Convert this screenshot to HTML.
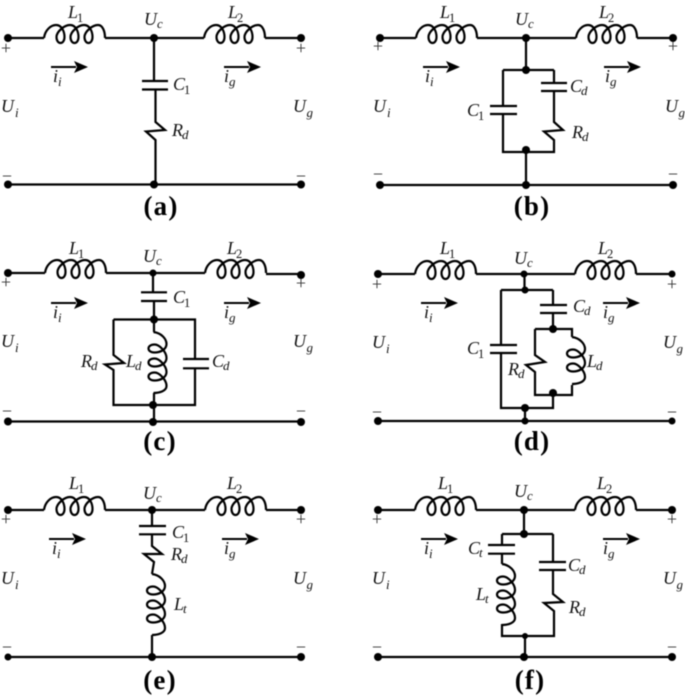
<!DOCTYPE html>
<html><head><meta charset="utf-8"><style>
html,body{margin:0;padding:0;background:#fff}
svg{display:block;filter:blur(.4px)}
text{font-family:"Liberation Serif",serif;font-style:italic;font-size:18px;fill:#111}
.s{font-size:13px}
.n{font-size:12.5px;font-style:normal}
.p{font-style:normal;font-size:18px;text-anchor:middle;fill:#333}
.b{font-style:normal;font-weight:bold;font-size:27px;letter-spacing:1.2px;text-anchor:middle;fill:#000}
.w{fill:none;stroke:#000;stroke-width:2.2}
.c{fill:#000;stroke:none}
</style></head><body>
<svg width="685" height="697" viewBox="0 0 685 697" xmlns="http://www.w3.org/2000/svg">
<defs>
<path id="L3" class="w" d="M0 0C1-8 7-13 12-13C18-13 20.5-6 20.5-1C20.5 3 18.500 5 16.500 5C14.500 5 12.500 3 12.500-1C12.500-6 20-13 26-13C32-13 34.500-6 34.500-1C34.500 3 32.500 5 30.500 5C28.500 5 26.500 3 26.500-1C26.500-6 34-13 40-13C46-13 48.500-6 48.500-1C48.500 3 46.500 5 44.500 5C42.500 5 40.500 3 40.500-1C40.500-6 48-13 54-13C59-13 61-6 61 0"/>
<path id="L2" class="w" d="M0 0C1-8 7-13 12-13C18-13 20.5-6 20.5-1C20.5 3 18.500 5 16.500 5C14.500 5 12.500 3 12.500-1C12.500-6 20-13 26-13C32-13 34.500-6 34.500-1C34.500 3 32.500 5 30.500 5C28.500 5 26.500 3 26.500-1C26.500-6 34-13 40-13C45-13 47-6 47 0"/>
<path id="A" d="M0 -1H25V1H0ZM37 0L23-6L26 0L23 6Z" fill="#000"/>
</defs>

<!-- a -->
<path class="w" d="M8 38H44M105 38H204M265 38H301M8 184.5H301M154 38V81M142 81H168M142 89.5H168M155.5 89.5V122L165 130L146 131.5L155.5 140V184.5"/>
<use href="#L3" x="44" y="38"/><use href="#L3" x="204" y="38"/>
<g class="c"><circle cx="8" cy="38" r="4"/><circle cx="154" cy="38" r="4"/><circle cx="301" cy="38" r="4"/><circle cx="8" cy="184.5" r="4"/><circle cx="154" cy="184.5" r="4"/><circle cx="301" cy="184.5" r="4"/></g>
<use href="#A" x="51" y="67"/><use href="#A" x="224" y="67"/>
<text class="p" x="6" y="54">+</text><text class="p" x="301" y="54">+</text><text class="p" x="7" y="182">−</text><text class="p" x="301" y="182">−</text>
<text x="68" y="18">L<tspan class="n" dy="4" dx="-1">1</tspan></text><text x="228" y="18">L<tspan class="n" dy="4" dx="-1">2</tspan></text>
<text x="144" y="25">U<tspan class="s" dy="3">c</tspan></text>
<text x="53" y="82">i<tspan class="s" dy="4">i</tspan></text><text x="224" y="82">i<tspan class="s" dy="4">g</tspan></text>
<text x="1" y="112">U<tspan class="s" dy="5" dx="1">i</tspan></text><text x="293" y="112">U<tspan class="s" dy="5" dx=".5">g</tspan></text>
<text x="173" y="90">C<tspan class="n" dy="4" dx="-1">1</tspan></text><text x="172" y="136">R<tspan class="s" dy="3" dx="-1">d</tspan></text>
<text class="b" x="161" y="215">(a)</text>

<!-- b -->
<path class="w" d="M380 38H416M477 38H576M637 38H673M380 185H673M526 38V70M526 152V185M503 70H554M503 70V106M490 106H517M490 114H517M503 114V152H554V140L544 131.5L563 130L554 122V91M541 91H567M541 83H567M554 83V70"/>
<use href="#L3" x="416" y="38"/><use href="#L3" x="576" y="38"/>
<g class="c"><circle cx="380" cy="38" r="4"/><circle cx="526" cy="38" r="4"/><circle cx="673" cy="38" r="4"/><circle cx="526" cy="70" r="4"/><circle cx="526" cy="150" r="4"/><circle cx="380" cy="185" r="4"/><circle cx="526" cy="185" r="4"/><circle cx="673" cy="185" r="4"/></g>
<use href="#A" x="423" y="67"/><use href="#A" x="604" y="67"/>
<text class="p" x="378" y="52">+</text><text class="p" x="673" y="52">+</text><text class="p" x="378" y="180">−</text><text class="p" x="673" y="180">−</text>
<text x="440" y="18">L<tspan class="n" dy="4" dx="-1">1</tspan></text><text x="599" y="18">L<tspan class="n" dy="4" dx="-1">2</tspan></text>
<text x="515" y="25">U<tspan class="s" dy="3">c</tspan></text>
<text x="425" y="82">i<tspan class="s" dy="4">i</tspan></text><text x="605" y="82">i<tspan class="s" dy="4">g</tspan></text>
<text x="373" y="112">U<tspan class="s" dy="5" dx="1">i</tspan></text><text x="665" y="112">U<tspan class="s" dy="5" dx=".5">g</tspan></text>
<text x="467" y="116">C<tspan class="n" dy="4" dx="-1">1</tspan></text><text x="570" y="92">C<tspan class="s" dy="3" dx="-1">d</tspan></text><text x="572" y="138">R<tspan class="s" dy="3" dx="-1">d</tspan></text>
<text class="b" x="532" y="215">(b)</text>

<!-- c -->
<path class="w" d="M8 273H45M106 273H205M266 274H301M8 421.5H301M153 273V292M141 292.3H167M141 301H167M154 301V332M113.5 319.5H195V359M183 359H209M183 368.3H209M195 368V405H113.5V370L105 364.5L124 363L113.5 355V319.5M154 393V421.5"/>
<use href="#L3" x="45" y="273"/><use href="#L3" x="205" y="273"/>
<use href="#L3" transform="translate(153.5,332) rotate(90)"/>
<g class="c"><circle cx="8" cy="273" r="4"/><circle cx="153" cy="273" r="3.5"/><circle cx="301" cy="275" r="4"/><circle cx="154" cy="319.5" r="4"/><circle cx="153" cy="405" r="4"/><circle cx="8" cy="421.5" r="4"/><circle cx="153" cy="422" r="4"/><circle cx="301" cy="422" r="4"/></g>
<use href="#A" x="51" y="303"/><use href="#A" x="224" y="303"/>
<text class="p" x="6" y="288">+</text><text class="p" x="301" y="289">+</text><text class="p" x="7" y="417">−</text><text class="p" x="301" y="417">−</text>
<text x="69" y="254">L<tspan class="n" dy="4" dx="-1">1</tspan></text><text x="227" y="254">L<tspan class="n" dy="4" dx="-1">2</tspan></text>
<text x="143" y="262">U<tspan class="s" dy="3">c</tspan></text>
<text x="53" y="318">i<tspan class="s" dy="4">i</tspan></text><text x="224" y="318">i<tspan class="s" dy="4">g</tspan></text>
<text x="1" y="347">U<tspan class="s" dy="5" dx="1">i</tspan></text><text x="293" y="347">U<tspan class="s" dy="5" dx=".5">g</tspan></text>
<text x="173" y="303">C<tspan class="n" dy="4" dx="-1">1</tspan></text><text x="81" y="367">R<tspan class="s" dy="3" dx="-1">d</tspan></text><text x="126" y="367">L<tspan class="s" dy="3" dx="-1">d</tspan></text><text x="212" y="367">C<tspan class="s" dy="3" dx="-1">d</tspan></text>
<text class="b" x="160" y="450">(c)</text>

<!-- d -->
<path class="w" d="M378 274H415M476 274H575M636 274H672M378 421H672M524.5 274V290M501 290H553M501 290V345M490 345H517M490 353H517M501 353V408H553V395M525 408V421M553 290V305M540 305H567M540 313H567M553 313V329M535 329H572V337M572 385V395H535V372L526 365L545 362L535 355V329"/>
<use href="#L3" x="415" y="274"/><use href="#L3" x="575" y="274"/>
<use href="#L2" transform="translate(572,337) rotate(90)"/>
<g class="c"><circle cx="378" cy="274" r="4"/><circle cx="524" cy="274" r="3.5"/><circle cx="672" cy="274" r="3.5"/><circle cx="525" cy="290" r="3.5"/><circle cx="553" cy="329" r="4"/><circle cx="553" cy="393" r="4"/><circle cx="525" cy="408" r="4"/><circle cx="378" cy="421" r="4"/><circle cx="525" cy="421" r="3.5"/><circle cx="672" cy="421" r="3.500"/></g>
<use href="#A" x="421" y="303"/><use href="#A" x="603" y="303"/>
<text class="p" x="377" y="290">+</text><text class="p" x="672" y="290">+</text><text class="p" x="377" y="418">−</text><text class="p" x="672" y="418">−</text>
<text x="440" y="254">L<tspan class="n" dy="4" dx="-1">1</tspan></text><text x="598" y="254">L<tspan class="n" dy="4" dx="-1">2</tspan></text>
<text x="514" y="264">U<tspan class="s" dy="3">c</tspan></text>
<text x="424" y="318">i<tspan class="s" dy="4">i</tspan></text><text x="603" y="318">i<tspan class="s" dy="4">g</tspan></text>
<text x="372" y="348">U<tspan class="s" dy="5" dx="1">i</tspan></text><text x="663" y="348">U<tspan class="s" dy="5" dx=".5">g</tspan></text>
<text x="467" y="354">C<tspan class="n" dy="4" dx="-1">1</tspan></text><text x="573" y="312">C<tspan class="s" dy="3" dx="-1">d</tspan></text><text x="587" y="367">L<tspan class="s" dy="3" dx="-1">d</tspan></text><text x="508" y="375">R<tspan class="s" dy="3" dx="-1">d</tspan></text>
<text class="b" x="532" y="450">(d)</text>

<!-- e -->
<path class="w" d="M8 510H44M105 510H205M266 510H301M8 657H301M152 510V526M139 526H166M139 534.3H166M152 534V546L162 554L144 554L154 562L152 574M152 635V657"/>
<use href="#L3" x="44" y="510"/><use href="#L3" x="205" y="510"/>
<use href="#L3" transform="translate(152,574) rotate(90)"/>
<g class="c"><circle cx="8" cy="510" r="4"/><circle cx="152" cy="510" r="4"/><circle cx="301" cy="510" r="4"/><circle cx="8" cy="657" r="3.5"/><circle cx="152" cy="657" r="4"/><circle cx="301" cy="657" r="4"/></g>
<use href="#A" x="49" y="539"/><use href="#A" x="222" y="539"/>
<text class="p" x="6" y="525">+</text><text class="p" x="301" y="525">+</text><text class="p" x="7" y="653">−</text><text class="p" x="301" y="653">−</text>
<text x="69" y="489">L<tspan class="n" dy="4" dx="-1">1</tspan></text><text x="227" y="489">L<tspan class="n" dy="4" dx="-1">2</tspan></text>
<text x="143" y="499">U<tspan class="s" dy="3">c</tspan></text>
<text x="52" y="554">i<tspan class="s" dy="4">i</tspan></text><text x="224" y="554">i<tspan class="s" dy="4">g</tspan></text>
<text x="1" y="584">U<tspan class="s" dy="5" dx="1">i</tspan></text><text x="293" y="584">U<tspan class="s" dy="5" dx=".5">g</tspan></text>
<text x="172" y="538">C<tspan class="n" dy="4" dx="-1">1</tspan></text><text x="171" y="560">R<tspan class="s" dy="3" dx="-1">d</tspan></text><text x="174" y="610">L<tspan class="s" dy="3" dx="-1">t</tspan></text>
<text class="b" x="160" y="689">(e)</text>

<!-- f -->
<path class="w" d="M378 510H415M476 510H575M636 510H672M378 657H672M524 510V534M502 534H553M502 534V545M488 545H515M488 553.7H515M502 554V564M502 624V636H554V611L544 603L563 602L553 594V570M539 570H566M539 562H566M553 562V534M525 636V657"/>
<use href="#L3" x="415" y="510"/><use href="#L3" x="575" y="510"/>
<use href="#L3" transform="translate(502,564) rotate(90)"/>
<g class="c"><circle cx="378" cy="510" r="4"/><circle cx="524" cy="510" r="4"/><circle cx="672" cy="510" r="4"/><circle cx="524" cy="534" r="4"/><circle cx="525" cy="636" r="3"/><circle cx="378" cy="657" r="4"/><circle cx="524" cy="657" r="4"/><circle cx="672" cy="657" r="4"/></g>
<use href="#A" x="421" y="539"/><use href="#A" x="603" y="539"/>
<text class="p" x="377" y="525">+</text><text class="p" x="672" y="525">+</text><text class="p" x="377" y="653">−</text><text class="p" x="672" y="653">−</text>
<text x="438" y="489">L<tspan class="n" dy="4" dx="-1">1</tspan></text><text x="597" y="489">L<tspan class="n" dy="4" dx="-1">2</tspan></text>
<text x="514" y="497">U<tspan class="s" dy="3">c</tspan></text>
<text x="424" y="554">i<tspan class="s" dy="4">i</tspan></text><text x="603" y="554">i<tspan class="s" dy="4">g</tspan></text>
<text x="372" y="584">U<tspan class="s" dy="5" dx="1">i</tspan></text><text x="663" y="584">U<tspan class="s" dy="5" dx=".5">g</tspan></text>
<text x="468" y="554">C<tspan class="s" dy="3" dx="-1">t</tspan></text><text x="476" y="600">L<tspan class="s" dy="3" dx="-1">t</tspan></text><text x="568" y="571">C<tspan class="s" dy="3" dx="-1">d</tspan></text><text x="569" y="613">R<tspan class="s" dy="3" dx="-1">d</tspan></text>
<text class="b" x="530" y="689">(f)</text>
</svg>
</body></html>
